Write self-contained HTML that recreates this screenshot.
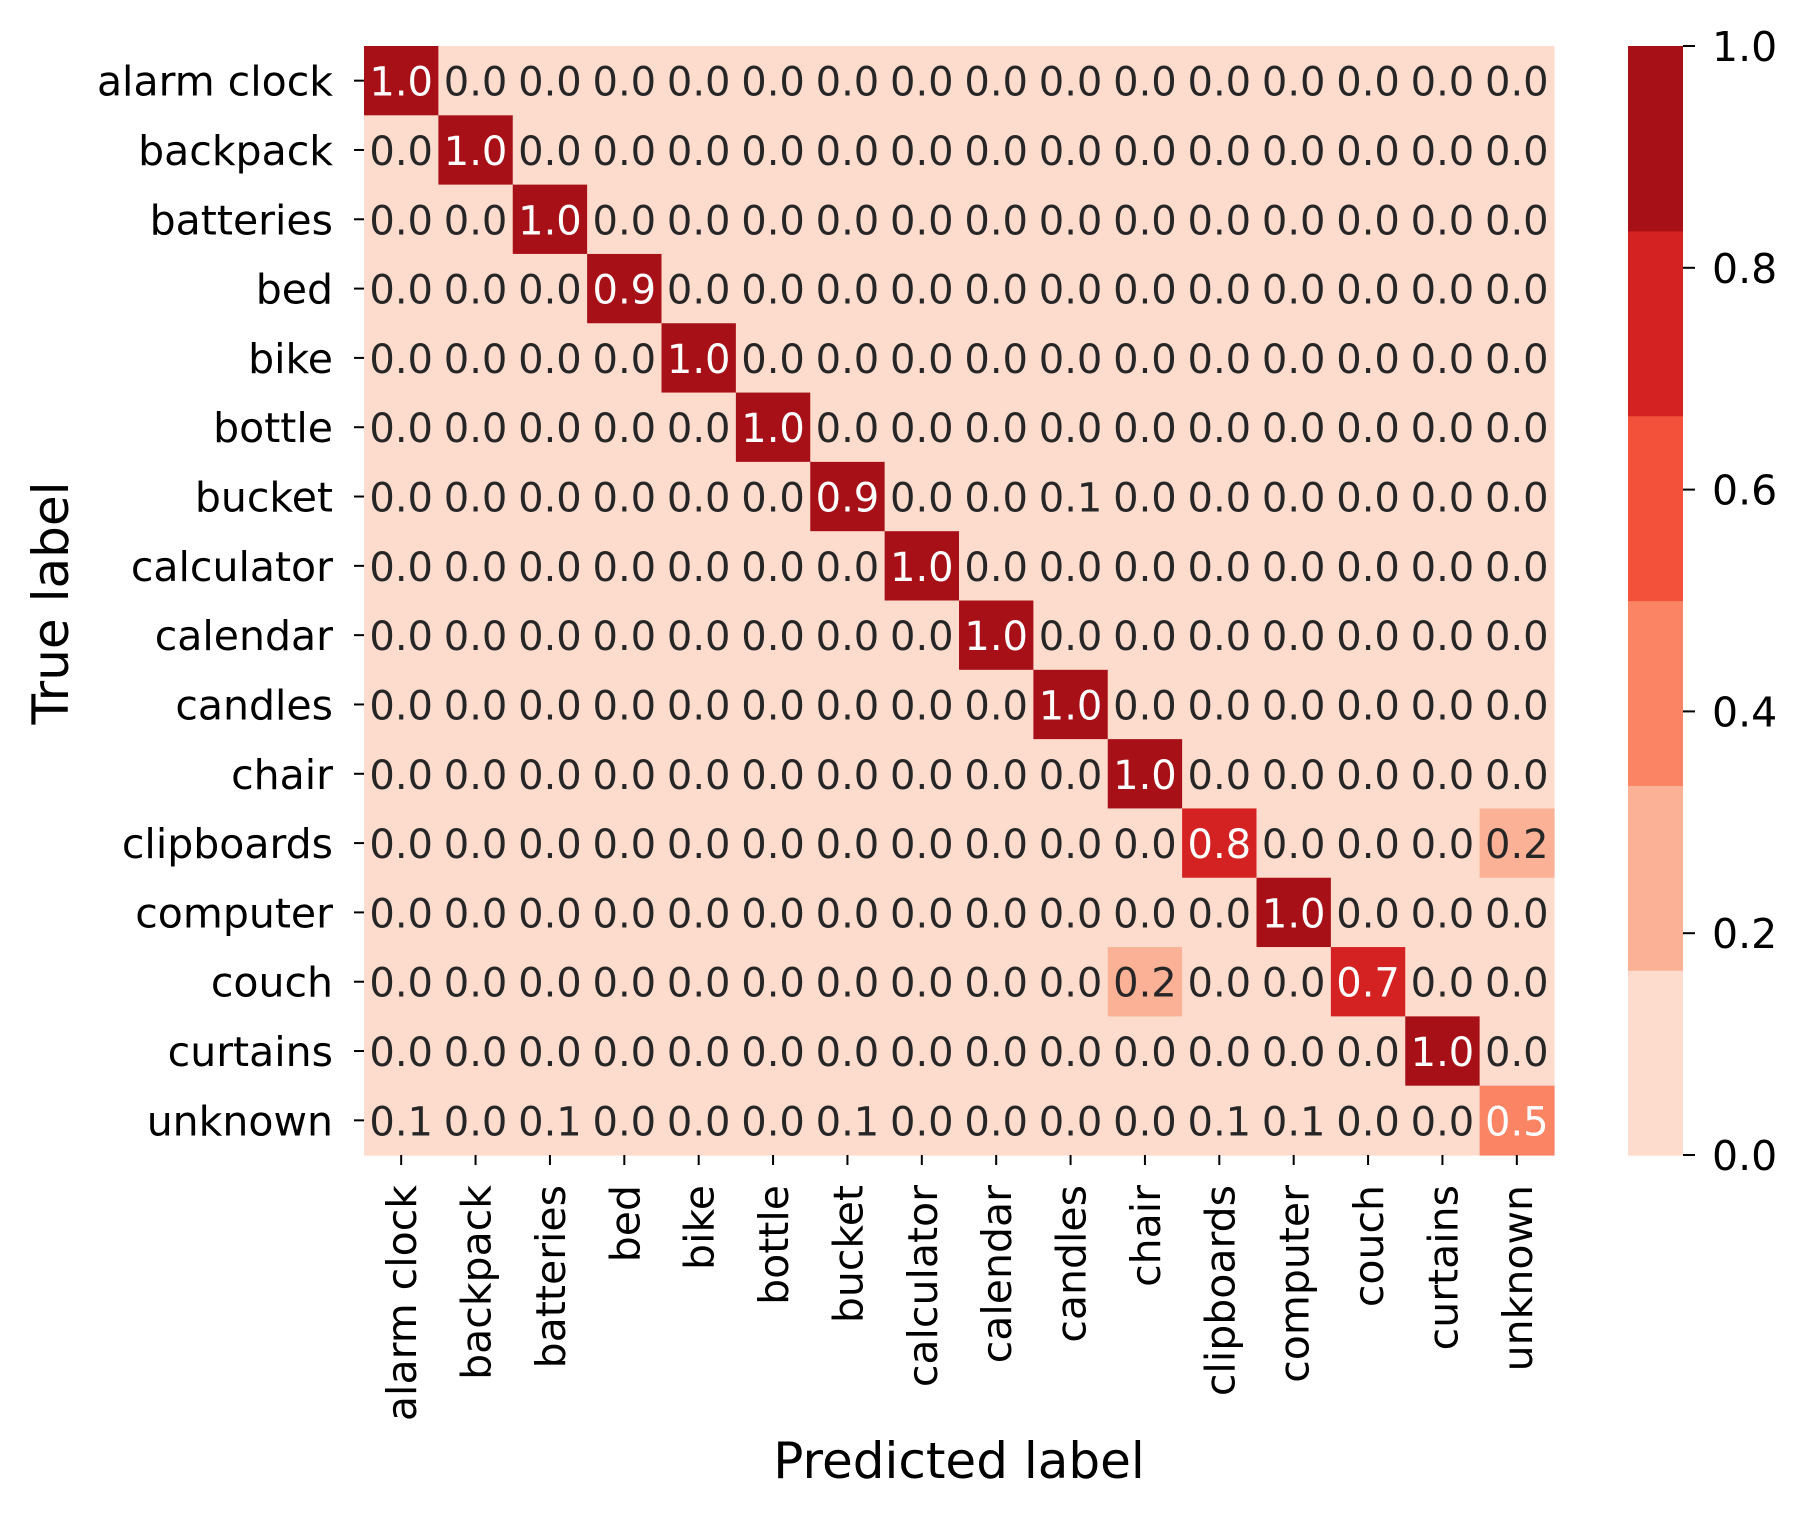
<!DOCTYPE html>
<html><head><meta charset="utf-8"><style>
html,body{margin:0;padding:0;background:#fff}
svg text{font-family:"DejaVu Sans","Liberation Sans",sans-serif}
</style></head><body>
<svg id="s" width="1808" height="1518" xmlns="http://www.w3.org/2000/svg"></svg>
<script>
const labels=["alarm clock","backpack","batteries","bed","bike","bottle","bucket","calculator","calendar","candles","chair","clipboards","computer","couch","curtains","unknown"];
const n=16;
const M=[];for(let i=0;i<n;i++){M.push(new Array(n).fill(0));}
const diag=[1,1,1,0.9,1,1,0.9,1,1,1,1,0.8,1,0.7,1,0.5];
for(let i=0;i<n;i++)M[i][i]=diag[i];
M[6][9]=0.1;M[11][15]=0.2;M[13][10]=0.2;
[0,2,6,11,12].forEach(j=>M[15][j]=0.1);
const cols=["#fddbcd","#fbb195","#fb8464","#f4513a","#d42121","#a81018"];
function col(v){let k=Math.floor(v*6-1e-9);if(k<0)k=0;if(k>5)k=5;return cols[k];}
const L=364,T=46,R=1554,B=1155,cw=(R-L)/n,ch=(B-T)/n;
let h='';
for(let i=0;i<n;i++)for(let j=0;j<n;j++){
 const v=M[i][j],x=L+j*cw,y=T+i*ch;
 h+=`<rect x="${x}" y="${y}" width="${cw+0.6}" height="${ch+0.6}" fill="${col(v)}"/>`;
 h+=`<text x="${x+cw/2}" y="${y+ch/2+15}" font-size="40" text-anchor="middle" fill="${v>=0.5?'#ffffff':'#262626'}">${v.toFixed(1)}</text>`;
}
for(let i=0;i<n;i++){
 const y=T+(i+0.5)*ch;
 h+=`<line x1="${L-10}" y1="${y}" x2="${L}" y2="${y}" stroke="#000" stroke-width="2"/>`;
 h+=`<text x="${L-31}" y="${y+15}" font-size="41" text-anchor="end" fill="#000">${labels[i]}</text>`;
 const x=L+(i+0.5)*cw;
 h+=`<line x1="${x}" y1="${B}" x2="${x}" y2="${B+10}" stroke="#000" stroke-width="2"/>`;
 h+=`<text transform="translate(${x+15},${B+30}) rotate(-90)" font-size="41" text-anchor="end" fill="#000">${labels[i]}</text>`;
}
h+=`<text x="${(L+R)/2}" y="1478" font-size="50" text-anchor="middle" fill="#000">Predicted label</text>`;
h+=`<text transform="translate(68,603) rotate(-90)" font-size="50" text-anchor="middle" fill="#000">True label</text>`;
const cx=1628,cW=55,seg=(B-T)/6;
for(let k=0;k<6;k++)h+=`<rect x="${cx}" y="${B-(k+1)*seg}" width="${cW}" height="${seg+0.6}" fill="${cols[k]}"/>`;
for(let t=0;t<=5;t++){const y=B-t*(B-T)/5;
 h+=`<line x1="${cx+cW}" y1="${y}" x2="${cx+cW+12}" y2="${y}" stroke="#000" stroke-width="2"/>`;
 h+=`<text x="1712" y="${y+15}" font-size="41" fill="#000">${(t*0.2).toFixed(1)}</text>`;}
document.getElementById('s').innerHTML=h;
</script>
</body></html>
